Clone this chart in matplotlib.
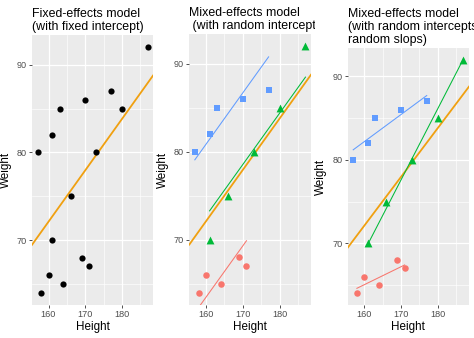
import matplotlib
matplotlib.use("Agg")
import matplotlib.pyplot as plt
from matplotlib.transforms import Bbox

plt.rcParams['font.family'] = ['Liberation Sans', 'DejaVu Sans']

# data: three groups
height_a = [158, 160, 164, 169, 171]
weight_a = [64, 66, 65, 68, 67]
height_b = [157, 161, 163, 170, 177]
weight_b = [80, 82, 85, 86, 87]
height_c = [161, 166, 173, 180, 187]
weight_c = [70, 75, 80, 85, 92]

# fixed effect line (intercept, slope)
fixed_intercept = -21.5
fixed_slope = 0.585

# random intercept fits: (x start, x end), (y start, y end)
ri_a = ([158, 171], [62.3, 69.9])
ri_b = ([157, 177], [79.1, 90.8])
ri_c = ([161, 187], [73.3, 88.5])

# random intercept + slope fits
rs_a = ([158, 171], [64.6, 67.4])
rs_b = ([157, 177], [81.2, 87.7])
rs_c = ([161, 187], [69.9, 92.1])

titles = ["Fixed-effects model\n(with fixed intercept)",
          "Mixed-effects model\n (with random intercepts)",
          "Mixed-effects model\n(with random intercepts+\nrandom slops)"]

red, blue, green = "#F8766D", "#619CFF", "#00BA38"
orange = "#F0A010"

W, H = 474, 338
fig = plt.figure(figsize=(W / 100, H / 100), dpi=100)

# panel boxes in pixels: left, right, top, bottom
boxes = [(32, 153, 35, 305), (189.3, 311, 34, 305), (347.7, 469, 48, 305)]
axes = []
for (l, r, t, b) in boxes:
    ax = fig.add_axes([l / W, 1 - b / H, (r - l) / W, (b - t) / H])
    axes.append(ax)


def style(ax):
    ax.set_facecolor("#EBEBEB")
    for s in ax.spines.values():
        s.set_visible(False)
    ax.set_xlim(155.5, 188.5)
    ax.set_ylim(62.6, 93.4)
    ax.set_xticks([160, 170, 180])
    ax.set_yticks([70, 80, 90])
    ax.set_xticks([165, 175, 185], minor=True)
    ax.set_yticks([65, 75, 85], minor=True)
    ax.grid(which="major", color="white", lw=0.9)
    ax.grid(which="minor", color="white", lw=0.45)
    ax.set_axisbelow(True)
    ax.tick_params(which="major", length=2.2, width=0.6, color="#333333",
                   labelsize=6.6, labelcolor="#4D4D4D", pad=1.5)
    ax.tick_params(which="minor", length=0)
    ax.set_xlabel("Height", fontsize=8.4, labelpad=1.5)
    ax.set_ylabel("Weight", fontsize=8.4, labelpad=3.5)
    ax.axline((0, fixed_intercept), slope=fixed_slope, color=orange, lw=1.3, zorder=2)


for ax in axes:
    style(ax)

# panel 1
ax = axes[0]
ax.scatter(height_a + height_b + height_c, weight_a + weight_b + weight_c,
           s=20, color="black", zorder=3, linewidths=0)

# panel 2 and 3
for ax, fits in zip(axes[1:], [(ri_a, ri_b, ri_c), (rs_a, rs_b, rs_c)]):
    for (xs, ys), col in zip(fits, [red, blue, green]):
        ax.plot(xs, ys, color=col, lw=0.75, zorder=2.5)
    ax.scatter(height_a, weight_a, s=22, marker="o", color=red, zorder=3, linewidths=0)
    ax.scatter(height_b, weight_b, s=22, marker="s", color=blue, zorder=3, linewidths=0)
    ax.scatter(height_c, weight_c, s=32, marker="^", color=green, zorder=3, linewidths=0)

# titles
for i, ((l, r, t, b), title) in enumerate(zip(boxes, titles)):
    txt = fig.text(l / W, 1 - (t - 2) / H, title, ha="left", va="bottom",
                   fontsize=8.9, linespacing=1.1)
    if i == 1:
        txt.set_clip_box(Bbox.from_extents(0, 0, 315, H))
        txt.set_clip_on(True)

fig.savefig("out.png", dpi=100)
